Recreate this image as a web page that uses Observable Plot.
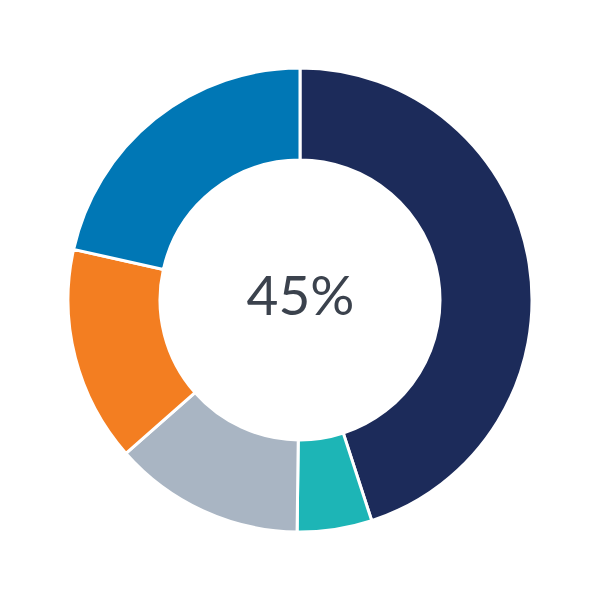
<!DOCTYPE html>
<html>
<head>
<meta charset="utf-8">
<script src="https://cdn.jsdelivr.net/npm/d3@7"></script>
<script src="https://cdn.jsdelivr.net/npm/@observablehq/plot@0.6"></script>
<style>
  html, body { margin: 0; padding: 0; background: #fff; }
</style>
</head>
<body>
<div id="chart"></div>
<script>
const categories = ["A", "B", "C", "D", "E"];
const values = [45, 5.2, 13.3, 15, 21.5];
const colors = ["#1c2b5a", "#1db5b6", "#a9b5c3", "#f37e21", "#0077b5"];
const centerLabel = ["45%"];

const data = categories.map((c, i) => ({category: c, value: values[i]}));

function donutMark(index, scales, values_, dimensions) {
  const cx = scales.x(0), cy = scales.y(0);
  const rOuter = Math.abs(scales.x(1) - scales.x(0));
  const rInner = rOuter * (140 / 232);
  const pie = d3.pie().sort(null).value(d => d.value)(data);
  const arc = d3.arc().innerRadius(rInner).outerRadius(rOuter);
  const g = d3.create("svg:g").attr("transform", `translate(${cx},${cy})`);
  g.selectAll("path").data(pie).join("path")
    .attr("d", arc)
    .attr("fill", d => colors[categories.indexOf(d.data.category)])
    .attr("stroke", "#fff")
    .attr("stroke-width", 3)
    .attr("stroke-linejoin", "miter");
  return g.node();
}

const chart = Plot.plot({
  width: 600,
  height: 600,
  margin: 0,
  x: {domain: [-1, 1], range: [68, 532], axis: null},
  y: {domain: [-1, 1], range: [532, 68], axis: null},
  marks: [
    donutMark,
    Plot.text(centerLabel, {
      x: () => 0, y: () => 0, text: d => d,
      fontSize: 55, fill: "#3b424d",
      fontFamily: "Lato", fontWeight: 400,
      dy: -3
    })
  ]
});
document.getElementById("chart").appendChild(chart);
</script>
</body>
</html>
